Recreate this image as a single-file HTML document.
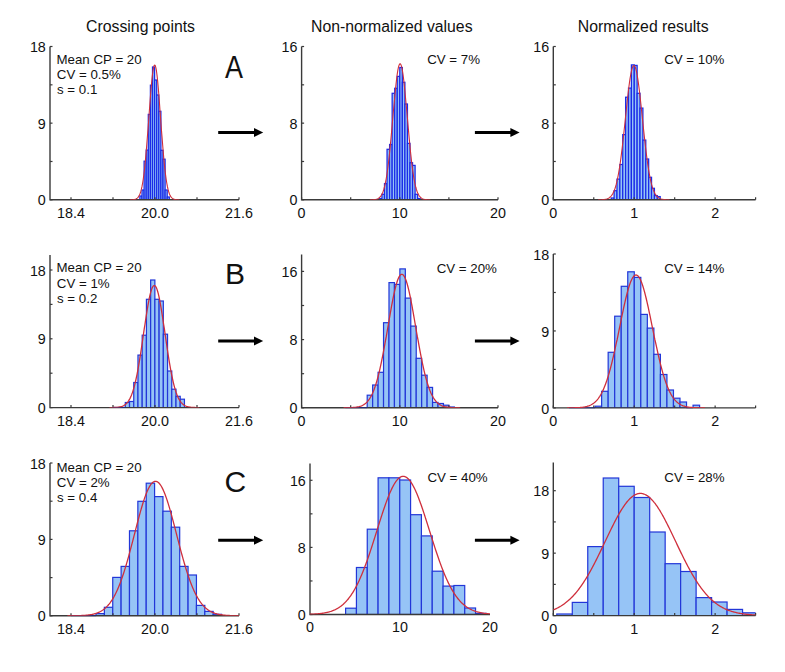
<!DOCTYPE html>
<html><head><meta charset="utf-8"><title>Histograms</title>
<style>html,body{margin:0;padding:0;background:#fff;}svg{display:block;}text{font-family:"Liberation Sans",sans-serif;}</style>
</head><body>
<svg width="785" height="672" viewBox="0 0 785 672" font-family='"Liberation Sans", sans-serif'>
<rect width="785" height="672" fill="#fff"/>
<defs><clipPath id="cpA1"><rect x="50.00" y="16.50" width="189.00" height="183.30"/></clipPath></defs>
<g clip-path="url(#cpA1)"><rect x="139.90" y="196.00" width="2.10" height="3.80" fill="#96c4f6" stroke="#1a2ae8" stroke-width="1.25"/><rect x="142.00" y="190.00" width="2.10" height="9.80" fill="#96c4f6" stroke="#1a2ae8" stroke-width="1.25"/><rect x="144.10" y="161.20" width="2.10" height="38.60" fill="#96c4f6" stroke="#1a2ae8" stroke-width="1.25"/><rect x="146.20" y="150.10" width="2.10" height="49.70" fill="#96c4f6" stroke="#1a2ae8" stroke-width="1.25"/><rect x="148.30" y="114.40" width="2.10" height="85.40" fill="#96c4f6" stroke="#1a2ae8" stroke-width="1.25"/><rect x="150.40" y="85.20" width="2.10" height="114.60" fill="#96c4f6" stroke="#1a2ae8" stroke-width="1.25"/><rect x="152.50" y="67.00" width="2.10" height="132.80" fill="#96c4f6" stroke="#1a2ae8" stroke-width="1.25"/><rect x="154.60" y="80.00" width="2.10" height="119.80" fill="#96c4f6" stroke="#1a2ae8" stroke-width="1.25"/><rect x="156.70" y="95.00" width="2.10" height="104.80" fill="#96c4f6" stroke="#1a2ae8" stroke-width="1.25"/><rect x="158.80" y="111.30" width="2.10" height="88.50" fill="#96c4f6" stroke="#1a2ae8" stroke-width="1.25"/><rect x="160.90" y="150.30" width="2.10" height="49.50" fill="#96c4f6" stroke="#1a2ae8" stroke-width="1.25"/><rect x="163.00" y="159.20" width="2.10" height="40.60" fill="#96c4f6" stroke="#1a2ae8" stroke-width="1.25"/><rect x="165.10" y="190.00" width="2.10" height="9.80" fill="#96c4f6" stroke="#1a2ae8" stroke-width="1.25"/><rect x="167.20" y="197.00" width="2.10" height="2.80" fill="#96c4f6" stroke="#1a2ae8" stroke-width="1.25"/></g>
<path d="M50.00,46.50 V199.80 H239.00" fill="none" stroke="#3a3a3a" stroke-width="1.4"/>
<path d="M50.00,199.80 h2.5" stroke="#3a3a3a" stroke-width="1.2"/>
<path d="M50.00,161.48 h2.5" stroke="#3a3a3a" stroke-width="1.2"/>
<path d="M50.00,123.15 h2.5" stroke="#3a3a3a" stroke-width="1.2"/>
<path d="M50.00,84.83 h2.5" stroke="#3a3a3a" stroke-width="1.2"/>
<path d="M50.00,46.50 h2.5" stroke="#3a3a3a" stroke-width="1.2"/>
<path d="M71.00,199.80 v-2.5" stroke="#3a3a3a" stroke-width="1.2"/>
<path d="M113.00,199.80 v-2.5" stroke="#3a3a3a" stroke-width="1.2"/>
<path d="M155.00,199.80 v-2.5" stroke="#3a3a3a" stroke-width="1.2"/>
<path d="M197.00,199.80 v-2.5" stroke="#3a3a3a" stroke-width="1.2"/>
<path d="M239.00,199.80 v-2.5" stroke="#3a3a3a" stroke-width="1.2"/>
<g clip-path="url(#cpA1)"><polyline points="129.9,199.78 130.5,199.77 131.1,199.75 131.7,199.73 132.3,199.70 132.9,199.65 133.5,199.58 134.2,199.49 134.8,199.36 135.4,199.17 136.0,198.93 136.6,198.60 137.2,198.17 137.8,197.60 138.4,196.86 139.0,195.92 139.6,194.72 140.2,193.24 140.8,191.40 141.4,189.16 142.0,186.47 142.6,183.27 143.2,179.52 143.8,175.17 144.4,170.21 145.0,164.62 145.6,158.40 146.2,151.60 146.8,144.26 147.4,136.48 148.1,128.36 148.7,120.03 149.3,111.67 149.9,103.45 150.5,95.56 151.1,88.20 151.7,81.57 152.3,75.85 152.9,71.22 153.5,67.80 154.1,65.71 154.7,65.00 155.3,65.71 155.9,67.80 156.5,71.22 157.1,75.85 157.7,81.57 158.3,88.20 158.9,95.56 159.5,103.45 160.1,111.67 160.7,120.03 161.3,128.36 162.0,136.48 162.6,144.26 163.2,151.60 163.8,158.40 164.4,164.62 165.0,170.21 165.6,175.17 166.2,179.52 166.8,183.27 167.4,186.47 168.0,189.16 168.6,191.40 169.2,193.24 169.8,194.72 170.4,195.92 171.0,196.86 171.6,197.60 172.2,198.17 172.8,198.60 173.4,198.93 174.0,199.17 174.6,199.36 175.2,199.49 175.9,199.58 176.5,199.65 177.1,199.70 177.7,199.73 178.3,199.75 178.9,199.77 179.5,199.78" fill="none" stroke="#cf2f3c" stroke-width="1.1" stroke-linejoin="round"/></g>
<text transform="translate(45.80,205.40) scale(1.0,1.05)" font-size="14.3" text-anchor="end" fill="#111">0</text>
<text transform="translate(45.80,128.75) scale(1.0,1.05)" font-size="14.3" text-anchor="end" fill="#111">9</text>
<text transform="translate(45.80,52.10) scale(1.0,1.05)" font-size="14.3" text-anchor="end" fill="#111">18</text>
<text transform="translate(71.00,217.70) scale(1.0,1.05)" font-size="14.3" text-anchor="middle" fill="#111">18.4</text>
<text transform="translate(155.00,217.70) scale(1.0,1.05)" font-size="14.3" text-anchor="middle" fill="#111">20.0</text>
<text transform="translate(239.00,217.70) scale(1.0,1.05)" font-size="14.3" text-anchor="middle" fill="#111">21.6</text>
<defs><clipPath id="cpA2"><rect x="301.60" y="16.50" width="196.40" height="183.30"/></clipPath></defs>
<g clip-path="url(#cpA2)"><rect x="379.40" y="198.60" width="2.55" height="1.20" fill="#96c4f6" stroke="#1a2ae8" stroke-width="1.25"/><rect x="381.95" y="194.30" width="2.55" height="5.50" fill="#96c4f6" stroke="#1a2ae8" stroke-width="1.25"/><rect x="384.50" y="183.60" width="2.55" height="16.20" fill="#96c4f6" stroke="#1a2ae8" stroke-width="1.25"/><rect x="387.05" y="149.30" width="2.55" height="50.50" fill="#96c4f6" stroke="#1a2ae8" stroke-width="1.25"/><rect x="389.60" y="144.50" width="2.55" height="55.30" fill="#96c4f6" stroke="#1a2ae8" stroke-width="1.25"/><rect x="392.15" y="93.30" width="2.55" height="106.50" fill="#96c4f6" stroke="#1a2ae8" stroke-width="1.25"/><rect x="394.70" y="88.30" width="2.55" height="111.50" fill="#96c4f6" stroke="#1a2ae8" stroke-width="1.25"/><rect x="397.25" y="76.40" width="2.55" height="123.40" fill="#96c4f6" stroke="#1a2ae8" stroke-width="1.25"/><rect x="399.80" y="67.50" width="2.55" height="132.30" fill="#96c4f6" stroke="#1a2ae8" stroke-width="1.25"/><rect x="402.35" y="82.30" width="2.55" height="117.50" fill="#96c4f6" stroke="#1a2ae8" stroke-width="1.25"/><rect x="404.90" y="104.00" width="2.55" height="95.80" fill="#96c4f6" stroke="#1a2ae8" stroke-width="1.25"/><rect x="407.45" y="143.40" width="2.55" height="56.40" fill="#96c4f6" stroke="#1a2ae8" stroke-width="1.25"/><rect x="410.00" y="162.70" width="2.55" height="37.10" fill="#96c4f6" stroke="#1a2ae8" stroke-width="1.25"/><rect x="412.55" y="165.40" width="2.55" height="34.40" fill="#96c4f6" stroke="#1a2ae8" stroke-width="1.25"/><rect x="415.10" y="194.30" width="2.55" height="5.50" fill="#96c4f6" stroke="#1a2ae8" stroke-width="1.25"/><rect x="417.65" y="198.60" width="2.55" height="1.20" fill="#96c4f6" stroke="#1a2ae8" stroke-width="1.25"/></g>
<path d="M301.60,46.50 V199.80 H498.00" fill="none" stroke="#3a3a3a" stroke-width="1.4"/>
<path d="M301.60,199.80 h2.5" stroke="#3a3a3a" stroke-width="1.2"/>
<path d="M301.60,161.48 h2.5" stroke="#3a3a3a" stroke-width="1.2"/>
<path d="M301.60,123.15 h2.5" stroke="#3a3a3a" stroke-width="1.2"/>
<path d="M301.60,84.83 h2.5" stroke="#3a3a3a" stroke-width="1.2"/>
<path d="M301.60,46.50 h2.5" stroke="#3a3a3a" stroke-width="1.2"/>
<path d="M301.60,199.80 v-2.5" stroke="#3a3a3a" stroke-width="1.2"/>
<path d="M350.70,199.80 v-2.5" stroke="#3a3a3a" stroke-width="1.2"/>
<path d="M399.80,199.80 v-2.5" stroke="#3a3a3a" stroke-width="1.2"/>
<path d="M448.90,199.80 v-2.5" stroke="#3a3a3a" stroke-width="1.2"/>
<path d="M498.00,199.80 v-2.5" stroke="#3a3a3a" stroke-width="1.2"/>
<g clip-path="url(#cpA2)"><polyline points="369.9,199.78 370.5,199.77 371.1,199.76 371.7,199.74 372.3,199.72 372.9,199.69 373.5,199.65 374.1,199.60 374.7,199.53 375.3,199.44 375.9,199.32 376.5,199.16 377.1,198.97 377.7,198.71 378.3,198.39 378.9,197.99 379.5,197.50 380.1,196.88 380.7,196.13 381.4,195.21 382.0,194.11 382.6,192.80 383.2,191.24 383.8,189.40 384.4,187.27 385.0,184.79 385.6,181.96 386.2,178.75 386.8,175.12 387.4,171.08 388.0,166.61 388.6,161.72 389.2,156.41 389.8,150.70 390.4,144.64 391.0,138.27 391.6,131.64 392.2,124.82 392.8,117.91 393.4,110.99 394.1,104.16 394.7,97.53 395.3,91.21 395.9,85.31 396.5,79.93 397.1,75.19 397.7,71.17 398.3,67.95 398.9,65.61 399.5,64.18 400.1,63.70 400.7,64.18 401.3,65.61 401.9,67.95 402.5,71.17 403.1,75.19 403.7,79.93 404.3,85.31 404.9,91.21 405.5,97.53 406.1,104.16 406.8,110.99 407.4,117.91 408.0,124.82 408.6,131.64 409.2,138.27 409.8,144.64 410.4,150.70 411.0,156.41 411.6,161.72 412.2,166.61 412.8,171.08 413.4,175.12 414.0,178.75 414.6,181.96 415.2,184.79 415.8,187.27 416.4,189.40 417.0,191.24 417.6,192.80 418.2,194.11 418.8,195.21 419.5,196.13 420.1,196.88 420.7,197.50 421.3,197.99 421.9,198.39 422.5,198.71 423.1,198.97 423.7,199.16 424.3,199.32 424.9,199.44 425.5,199.53 426.1,199.60 426.7,199.65 427.3,199.69 427.9,199.72 428.5,199.74 429.1,199.76 429.7,199.77 430.3,199.78" fill="none" stroke="#cf2f3c" stroke-width="1.1" stroke-linejoin="round"/></g>
<text transform="translate(297.40,205.40) scale(1.0,1.05)" font-size="14.3" text-anchor="end" fill="#111">0</text>
<text transform="translate(297.40,128.75) scale(1.0,1.05)" font-size="14.3" text-anchor="end" fill="#111">8</text>
<text transform="translate(297.40,52.10) scale(1.0,1.05)" font-size="14.3" text-anchor="end" fill="#111">16</text>
<text transform="translate(301.60,217.70) scale(1.0,1.05)" font-size="14.3" text-anchor="middle" fill="#111">0</text>
<text transform="translate(399.80,217.70) scale(1.0,1.05)" font-size="14.3" text-anchor="middle" fill="#111">10</text>
<text transform="translate(498.00,217.70) scale(1.0,1.05)" font-size="14.3" text-anchor="middle" fill="#111">20</text>
<defs><clipPath id="cpA3"><rect x="553.30" y="16.50" width="202.30" height="183.30"/></clipPath></defs>
<g clip-path="url(#cpA3)"><rect x="611.22" y="198.00" width="2.88" height="1.80" fill="#96c4f6" stroke="#1a2ae8" stroke-width="1.25"/><rect x="614.10" y="190.70" width="2.88" height="9.10" fill="#96c4f6" stroke="#1a2ae8" stroke-width="1.25"/><rect x="616.98" y="179.10" width="2.88" height="20.70" fill="#96c4f6" stroke="#1a2ae8" stroke-width="1.25"/><rect x="619.86" y="164.50" width="2.88" height="35.30" fill="#96c4f6" stroke="#1a2ae8" stroke-width="1.25"/><rect x="622.74" y="134.60" width="2.88" height="65.20" fill="#96c4f6" stroke="#1a2ae8" stroke-width="1.25"/><rect x="625.62" y="97.20" width="2.88" height="102.60" fill="#96c4f6" stroke="#1a2ae8" stroke-width="1.25"/><rect x="628.50" y="88.10" width="2.88" height="111.70" fill="#96c4f6" stroke="#1a2ae8" stroke-width="1.25"/><rect x="631.38" y="64.90" width="2.88" height="134.90" fill="#96c4f6" stroke="#1a2ae8" stroke-width="1.25"/><rect x="634.26" y="65.40" width="2.88" height="134.40" fill="#96c4f6" stroke="#1a2ae8" stroke-width="1.25"/><rect x="637.14" y="93.30" width="2.88" height="106.50" fill="#96c4f6" stroke="#1a2ae8" stroke-width="1.25"/><rect x="640.02" y="108.10" width="2.88" height="91.70" fill="#96c4f6" stroke="#1a2ae8" stroke-width="1.25"/><rect x="642.90" y="140.10" width="2.88" height="59.70" fill="#96c4f6" stroke="#1a2ae8" stroke-width="1.25"/><rect x="645.78" y="159.00" width="2.88" height="40.80" fill="#96c4f6" stroke="#1a2ae8" stroke-width="1.25"/><rect x="648.66" y="177.30" width="2.88" height="22.50" fill="#96c4f6" stroke="#1a2ae8" stroke-width="1.25"/><rect x="651.54" y="188.30" width="2.88" height="11.50" fill="#96c4f6" stroke="#1a2ae8" stroke-width="1.25"/><rect x="654.42" y="195.60" width="2.88" height="4.20" fill="#96c4f6" stroke="#1a2ae8" stroke-width="1.25"/><rect x="657.30" y="196.60" width="2.88" height="3.20" fill="#96c4f6" stroke="#1a2ae8" stroke-width="1.25"/></g>
<path d="M553.30,46.50 V199.80 H755.60" fill="none" stroke="#3a3a3a" stroke-width="1.4"/>
<path d="M553.30,199.80 h2.5" stroke="#3a3a3a" stroke-width="1.2"/>
<path d="M553.30,161.48 h2.5" stroke="#3a3a3a" stroke-width="1.2"/>
<path d="M553.30,123.15 h2.5" stroke="#3a3a3a" stroke-width="1.2"/>
<path d="M553.30,84.83 h2.5" stroke="#3a3a3a" stroke-width="1.2"/>
<path d="M553.30,46.50 h2.5" stroke="#3a3a3a" stroke-width="1.2"/>
<path d="M553.30,199.80 v-2.5" stroke="#3a3a3a" stroke-width="1.2"/>
<path d="M593.76,199.80 v-2.5" stroke="#3a3a3a" stroke-width="1.2"/>
<path d="M634.22,199.80 v-2.5" stroke="#3a3a3a" stroke-width="1.2"/>
<path d="M674.68,199.80 v-2.5" stroke="#3a3a3a" stroke-width="1.2"/>
<path d="M715.14,199.80 v-2.5" stroke="#3a3a3a" stroke-width="1.2"/>
<path d="M755.60,199.80 v-2.5" stroke="#3a3a3a" stroke-width="1.2"/>
<g clip-path="url(#cpA3)"><polyline points="598.2,199.78 598.8,199.77 599.4,199.76 600.0,199.75 600.6,199.74 601.2,199.72 601.8,199.69 602.4,199.66 603.0,199.62 603.6,199.57 604.2,199.50 604.8,199.42 605.4,199.31 606.0,199.19 606.6,199.03 607.2,198.83 607.8,198.60 608.4,198.31 609.0,197.96 609.6,197.54 610.2,197.05 610.8,196.46 611.4,195.76 612.0,194.94 612.6,193.99 613.2,192.88 613.8,191.60 614.4,190.13 615.0,188.46 615.6,186.57 616.2,184.44 616.8,182.05 617.4,179.39 618.0,176.45 618.6,173.22 619.2,169.70 619.8,165.87 620.4,161.75 621.0,157.34 621.6,152.66 622.2,147.72 622.8,142.55 623.4,137.18 624.0,131.64 624.6,125.99 625.2,120.26 625.8,114.51 626.4,108.81 627.0,103.20 627.6,97.76 628.2,92.54 628.8,87.62 629.4,83.06 630.0,78.92 630.6,75.25 631.2,72.11 631.8,69.54 632.4,67.57 633.0,66.25 633.6,65.58 634.2,65.58 634.8,66.25 635.4,67.57 636.0,69.54 636.6,72.11 637.2,75.25 637.8,78.92 638.4,83.06 639.0,87.62 639.6,92.54 640.2,97.76 640.8,103.20 641.4,108.81 642.0,114.51 642.6,120.26 643.2,125.99 643.8,131.64 644.4,137.18 645.0,142.55 645.6,147.72 646.2,152.66 646.8,157.34 647.4,161.75 648.0,165.87 648.6,169.70 649.2,173.22 649.8,176.45 650.4,179.39 651.0,182.05 651.6,184.44 652.2,186.57 652.8,188.46 653.4,190.13 654.0,191.60 654.6,192.88 655.2,193.99 655.8,194.94 656.4,195.76 657.0,196.46 657.6,197.05 658.2,197.54 658.8,197.96 659.4,198.31 660.0,198.60 660.6,198.83 661.2,199.03 661.8,199.19 662.4,199.31 663.0,199.42 663.6,199.50 664.2,199.57 664.8,199.62 665.4,199.66 666.0,199.69 666.6,199.72 667.2,199.74 667.8,199.75 668.4,199.76 669.0,199.77 669.6,199.78" fill="none" stroke="#cf2f3c" stroke-width="1.1" stroke-linejoin="round"/></g>
<text transform="translate(549.10,205.40) scale(1.0,1.05)" font-size="14.3" text-anchor="end" fill="#111">0</text>
<text transform="translate(549.10,128.75) scale(1.0,1.05)" font-size="14.3" text-anchor="end" fill="#111">8</text>
<text transform="translate(549.10,52.10) scale(1.0,1.05)" font-size="14.3" text-anchor="end" fill="#111">16</text>
<text transform="translate(553.30,217.70) scale(1.0,1.05)" font-size="14.3" text-anchor="middle" fill="#111">0</text>
<text transform="translate(634.22,217.70) scale(1.0,1.05)" font-size="14.3" text-anchor="middle" fill="#111">1</text>
<text transform="translate(715.14,217.70) scale(1.0,1.05)" font-size="14.3" text-anchor="middle" fill="#111">2</text>
<defs><clipPath id="cpB1"><rect x="50.00" y="225.00" width="189.00" height="182.60"/></clipPath></defs>
<g clip-path="url(#cpB1)"><rect x="125.30" y="402.50" width="4.22" height="5.10" fill="#96c4f6" stroke="#2236d8" stroke-width="1.2"/><rect x="129.53" y="401.50" width="4.22" height="6.10" fill="#96c4f6" stroke="#2236d8" stroke-width="1.2"/><rect x="133.75" y="382.50" width="4.22" height="25.10" fill="#96c4f6" stroke="#2236d8" stroke-width="1.2"/><rect x="137.97" y="355.10" width="4.22" height="52.50" fill="#96c4f6" stroke="#2236d8" stroke-width="1.2"/><rect x="142.20" y="335.20" width="4.22" height="72.40" fill="#96c4f6" stroke="#2236d8" stroke-width="1.2"/><rect x="146.43" y="299.30" width="4.22" height="108.30" fill="#96c4f6" stroke="#2236d8" stroke-width="1.2"/><rect x="150.65" y="280.00" width="4.22" height="127.60" fill="#96c4f6" stroke="#2236d8" stroke-width="1.2"/><rect x="154.88" y="299.30" width="4.22" height="108.30" fill="#96c4f6" stroke="#2236d8" stroke-width="1.2"/><rect x="159.10" y="301.00" width="4.22" height="106.60" fill="#96c4f6" stroke="#2236d8" stroke-width="1.2"/><rect x="163.32" y="334.20" width="4.22" height="73.40" fill="#96c4f6" stroke="#2236d8" stroke-width="1.2"/><rect x="167.55" y="371.00" width="4.22" height="36.60" fill="#96c4f6" stroke="#2236d8" stroke-width="1.2"/><rect x="171.77" y="389.20" width="4.22" height="18.40" fill="#96c4f6" stroke="#2236d8" stroke-width="1.2"/><rect x="176.00" y="396.30" width="4.22" height="11.30" fill="#96c4f6" stroke="#2236d8" stroke-width="1.2"/><rect x="180.22" y="399.20" width="4.22" height="8.40" fill="#96c4f6" stroke="#2236d8" stroke-width="1.2"/></g>
<path d="M50.00,255.00 V407.60 H239.00" fill="none" stroke="#3a3a3a" stroke-width="1.4"/>
<path d="M50.00,407.60 h2.5" stroke="#3a3a3a" stroke-width="1.2"/>
<path d="M50.00,373.20 h2.5" stroke="#3a3a3a" stroke-width="1.2"/>
<path d="M50.00,338.80 h2.5" stroke="#3a3a3a" stroke-width="1.2"/>
<path d="M50.00,304.40 h2.5" stroke="#3a3a3a" stroke-width="1.2"/>
<path d="M50.00,270.00 h2.5" stroke="#3a3a3a" stroke-width="1.2"/>
<path d="M71.00,407.60 v-2.5" stroke="#3a3a3a" stroke-width="1.2"/>
<path d="M113.00,407.60 v-2.5" stroke="#3a3a3a" stroke-width="1.2"/>
<path d="M155.00,407.60 v-2.5" stroke="#3a3a3a" stroke-width="1.2"/>
<path d="M197.00,407.60 v-2.5" stroke="#3a3a3a" stroke-width="1.2"/>
<path d="M239.00,407.60 v-2.5" stroke="#3a3a3a" stroke-width="1.2"/>
<path d="M112.60,407.40 H125.30" stroke="#1c2a8a" stroke-width="1.1" opacity="0.8"/>
<g clip-path="url(#cpB1)"><polyline points="109.4,407.58 110.0,407.58 110.6,407.57 111.2,407.56 111.8,407.55 112.4,407.54 113.0,407.53 113.6,407.51 114.2,407.49 114.8,407.47 115.4,407.44 116.0,407.40 116.6,407.35 117.2,407.30 117.8,407.24 118.4,407.16 119.0,407.07 119.6,406.96 120.2,406.84 120.8,406.69 121.4,406.51 122.0,406.31 122.6,406.07 123.2,405.80 123.8,405.48 124.4,405.11 125.0,404.69 125.6,404.21 126.3,403.67 126.9,403.05 127.5,402.35 128.1,401.56 128.7,400.68 129.3,399.69 129.9,398.59 130.5,397.37 131.1,396.02 131.7,394.53 132.3,392.90 132.9,391.12 133.5,389.18 134.1,387.08 134.7,384.81 135.3,382.37 135.9,379.76 136.5,376.97 137.1,374.01 137.7,370.89 138.3,367.60 138.9,364.15 139.5,360.56 140.1,356.83 140.7,352.98 141.3,349.03 141.9,344.98 142.5,340.88 143.1,336.72 143.7,332.55 144.3,328.38 145.0,324.25 145.6,320.18 146.2,316.20 146.8,312.35 147.4,308.64 148.0,305.12 148.6,301.81 149.2,298.74 149.8,295.94 150.4,293.43 151.0,291.23 151.6,289.37 152.2,287.85 152.8,286.71 153.4,285.94 154.0,285.55 154.6,285.55 155.2,285.94 155.8,286.71 156.4,287.85 157.0,289.37 157.6,291.23 158.2,293.43 158.8,295.94 159.4,298.74 160.0,301.81 160.6,305.12 161.2,308.64 161.8,312.35 162.4,316.20 163.0,320.18 163.6,324.25 164.3,328.38 164.9,332.55 165.5,336.72 166.1,340.88 166.7,344.98 167.3,349.03 167.9,352.98 168.5,356.83 169.1,360.56 169.7,364.15 170.3,367.60 170.9,370.89 171.5,374.01 172.1,376.97 172.7,379.76 173.3,382.37 173.9,384.81 174.5,387.08 175.1,389.18 175.7,391.12 176.3,392.90 176.9,394.53 177.5,396.02 178.1,397.37 178.7,398.59 179.3,399.69 179.9,400.68 180.5,401.56 181.1,402.35 181.7,403.05 182.3,403.67 183.0,404.21 183.6,404.69 184.2,405.11 184.8,405.48 185.4,405.80 186.0,406.07 186.6,406.31 187.2,406.51 187.8,406.69 188.4,406.84 189.0,406.96 189.6,407.07 190.2,407.16 190.8,407.24 191.4,407.30 192.0,407.35 192.6,407.40 193.2,407.44 193.8,407.47 194.4,407.49 195.0,407.51 195.6,407.53 196.2,407.54 196.8,407.55 197.4,407.56 198.0,407.57 198.6,407.58 199.2,407.58" fill="none" stroke="#cf2f3c" stroke-width="1.3" stroke-linejoin="round"/></g>
<text transform="translate(45.80,413.20) scale(1.0,1.05)" font-size="14.3" text-anchor="end" fill="#111">0</text>
<text transform="translate(45.80,344.40) scale(1.0,1.05)" font-size="14.3" text-anchor="end" fill="#111">9</text>
<text transform="translate(45.80,275.60) scale(1.0,1.05)" font-size="14.3" text-anchor="end" fill="#111">18</text>
<text transform="translate(71.00,425.50) scale(1.0,1.05)" font-size="14.3" text-anchor="middle" fill="#111">18.4</text>
<text transform="translate(155.00,425.50) scale(1.0,1.05)" font-size="14.3" text-anchor="middle" fill="#111">20.0</text>
<text transform="translate(239.00,425.50) scale(1.0,1.05)" font-size="14.3" text-anchor="middle" fill="#111">21.6</text>
<defs><clipPath id="cpB2"><rect x="301.60" y="224.50" width="196.40" height="183.30"/></clipPath></defs>
<g clip-path="url(#cpB2)"><rect x="367.20" y="395.20" width="5.45" height="12.60" fill="#96c4f6" stroke="#2236d8" stroke-width="1.2"/><rect x="372.65" y="385.00" width="5.45" height="22.80" fill="#96c4f6" stroke="#2236d8" stroke-width="1.2"/><rect x="378.09" y="372.30" width="5.45" height="35.50" fill="#96c4f6" stroke="#2236d8" stroke-width="1.2"/><rect x="383.54" y="322.70" width="5.45" height="85.10" fill="#96c4f6" stroke="#2236d8" stroke-width="1.2"/><rect x="388.99" y="282.60" width="5.45" height="125.20" fill="#96c4f6" stroke="#2236d8" stroke-width="1.2"/><rect x="394.44" y="284.40" width="5.45" height="123.40" fill="#96c4f6" stroke="#2236d8" stroke-width="1.2"/><rect x="399.88" y="268.90" width="5.45" height="138.90" fill="#96c4f6" stroke="#2236d8" stroke-width="1.2"/><rect x="405.33" y="298.10" width="5.45" height="109.70" fill="#96c4f6" stroke="#2236d8" stroke-width="1.2"/><rect x="410.78" y="326.10" width="5.45" height="81.70" fill="#96c4f6" stroke="#2236d8" stroke-width="1.2"/><rect x="416.22" y="358.30" width="5.45" height="49.50" fill="#96c4f6" stroke="#2236d8" stroke-width="1.2"/><rect x="421.67" y="375.20" width="5.45" height="32.60" fill="#96c4f6" stroke="#2236d8" stroke-width="1.2"/><rect x="427.12" y="387.40" width="5.45" height="20.40" fill="#96c4f6" stroke="#2236d8" stroke-width="1.2"/><rect x="432.56" y="402.40" width="5.45" height="5.40" fill="#96c4f6" stroke="#2236d8" stroke-width="1.2"/><rect x="438.01" y="403.50" width="5.45" height="4.30" fill="#96c4f6" stroke="#2236d8" stroke-width="1.2"/><rect x="443.46" y="405.20" width="5.45" height="2.60" fill="#96c4f6" stroke="#2236d8" stroke-width="1.2"/><rect x="448.90" y="407.00" width="5.45" height="0.80" fill="#96c4f6" stroke="#2236d8" stroke-width="1.2"/></g>
<path d="M301.60,254.50 V407.80 H498.00" fill="none" stroke="#3a3a3a" stroke-width="1.4"/>
<path d="M301.60,407.80 h2.5" stroke="#3a3a3a" stroke-width="1.2"/>
<path d="M301.60,373.70 h2.5" stroke="#3a3a3a" stroke-width="1.2"/>
<path d="M301.60,339.60 h2.5" stroke="#3a3a3a" stroke-width="1.2"/>
<path d="M301.60,305.50 h2.5" stroke="#3a3a3a" stroke-width="1.2"/>
<path d="M301.60,271.40 h2.5" stroke="#3a3a3a" stroke-width="1.2"/>
<path d="M301.60,407.80 v-2.5" stroke="#3a3a3a" stroke-width="1.2"/>
<path d="M350.70,407.80 v-2.5" stroke="#3a3a3a" stroke-width="1.2"/>
<path d="M399.80,407.80 v-2.5" stroke="#3a3a3a" stroke-width="1.2"/>
<path d="M448.90,407.80 v-2.5" stroke="#3a3a3a" stroke-width="1.2"/>
<path d="M498.00,407.80 v-2.5" stroke="#3a3a3a" stroke-width="1.2"/>
<path d="M345.40,407.60 H367.20" stroke="#1c2a8a" stroke-width="1.1" opacity="0.8"/>
<g clip-path="url(#cpB2)"><polyline points="343.4,407.78 344.0,407.78 344.6,407.77 345.2,407.77 345.8,407.76 346.4,407.75 347.0,407.74 347.6,407.73 348.2,407.72 348.8,407.71 349.4,407.69 350.0,407.67 350.6,407.65 351.2,407.62 351.8,407.59 352.4,407.56 353.0,407.52 353.7,407.47 354.3,407.42 354.9,407.35 355.5,407.29 356.1,407.21 356.7,407.12 357.3,407.01 357.9,406.90 358.5,406.76 359.1,406.62 359.7,406.45 360.3,406.26 360.9,406.05 361.5,405.81 362.1,405.55 362.7,405.26 363.3,404.93 363.9,404.57 364.5,404.16 365.1,403.72 365.7,403.23 366.3,402.69 366.9,402.10 367.5,401.45 368.1,400.74 368.7,399.97 369.3,399.12 369.9,398.21 370.5,397.22 371.1,396.14 371.7,394.99 372.3,393.74 372.9,392.40 373.5,390.97 374.1,389.43 374.7,387.80 375.3,386.06 375.9,384.21 376.5,382.25 377.1,380.19 377.7,378.01 378.3,375.72 378.9,373.32 379.5,370.80 380.1,368.18 380.7,365.46 381.3,362.63 381.9,359.70 382.5,356.68 383.1,353.57 383.7,350.38 384.3,347.11 384.9,343.78 385.5,340.39 386.2,336.96 386.8,333.49 387.4,330.00 388.0,326.49 388.6,322.99 389.2,319.50 389.8,316.04 390.4,312.63 391.0,309.27 391.6,305.98 392.2,302.78 392.8,299.69 393.4,296.71 394.0,293.86 394.6,291.16 395.2,288.62 395.8,286.25 396.4,284.06 397.0,282.07 397.6,280.29 398.2,278.73 398.8,277.39 399.4,276.29 400.0,275.42 400.6,274.80 401.2,274.43 401.8,274.30 402.4,274.43 403.0,274.80 403.6,275.42 404.2,276.29 404.8,277.39 405.4,278.73 406.0,280.29 406.6,282.07 407.2,284.06 407.8,286.25 408.4,288.62 409.0,291.16 409.6,293.86 410.2,296.71 410.8,299.69 411.4,302.78 412.0,305.98 412.6,309.27 413.2,312.63 413.8,316.04 414.4,319.50 415.0,322.99 415.6,326.49 416.2,330.00 416.8,333.49 417.4,336.96 418.1,340.39 418.7,343.78 419.3,347.11 419.9,350.38 420.5,353.57 421.1,356.68 421.7,359.70 422.3,362.63 422.9,365.46 423.5,368.18 424.1,370.80 424.7,373.32 425.3,375.72 425.9,378.01 426.5,380.19 427.1,382.25 427.7,384.21 428.3,386.06 428.9,387.80 429.5,389.43 430.1,390.97 430.7,392.40 431.3,393.74 431.9,394.99 432.5,396.14 433.1,397.22 433.7,398.21 434.3,399.12 434.9,399.97 435.5,400.74 436.1,401.45 436.7,402.10 437.3,402.69 437.9,403.23 438.5,403.72 439.1,404.16 439.7,404.57 440.3,404.93 440.9,405.26 441.5,405.55 442.1,405.81 442.7,406.05 443.3,406.26 443.9,406.45 444.5,406.62 445.1,406.76 445.7,406.90 446.3,407.01 446.9,407.12 447.5,407.21 448.1,407.29 448.7,407.35 449.3,407.42 449.9,407.47 450.6,407.52 451.2,407.56 451.8,407.59 452.4,407.62 453.0,407.65 453.6,407.67 454.2,407.69 454.8,407.71 455.4,407.72 456.0,407.73 456.6,407.74 457.2,407.75 457.8,407.76 458.4,407.77 459.0,407.77 459.6,407.78 460.2,407.78" fill="none" stroke="#cf2f3c" stroke-width="1.3" stroke-linejoin="round"/></g>
<text transform="translate(297.40,413.40) scale(1.0,1.05)" font-size="14.3" text-anchor="end" fill="#111">0</text>
<text transform="translate(297.40,345.20) scale(1.0,1.05)" font-size="14.3" text-anchor="end" fill="#111">8</text>
<text transform="translate(297.40,277.00) scale(1.0,1.05)" font-size="14.3" text-anchor="end" fill="#111">16</text>
<text transform="translate(301.60,425.70) scale(1.0,1.05)" font-size="14.3" text-anchor="middle" fill="#111">0</text>
<text transform="translate(399.80,425.70) scale(1.0,1.05)" font-size="14.3" text-anchor="middle" fill="#111">10</text>
<text transform="translate(498.00,425.70) scale(1.0,1.05)" font-size="14.3" text-anchor="middle" fill="#111">20</text>
<defs><clipPath id="cpB3"><rect x="553.30" y="224.00" width="202.30" height="183.90"/></clipPath></defs>
<g clip-path="url(#cpB3)"><rect x="595.10" y="406.20" width="6.53" height="1.70" fill="#96c4f6" stroke="#2236d8" stroke-width="1.2"/><rect x="601.63" y="391.30" width="6.53" height="16.60" fill="#96c4f6" stroke="#2236d8" stroke-width="1.2"/><rect x="608.16" y="352.30" width="6.53" height="55.60" fill="#96c4f6" stroke="#2236d8" stroke-width="1.2"/><rect x="614.69" y="316.20" width="6.53" height="91.70" fill="#96c4f6" stroke="#2236d8" stroke-width="1.2"/><rect x="621.22" y="286.30" width="6.53" height="121.60" fill="#96c4f6" stroke="#2236d8" stroke-width="1.2"/><rect x="627.75" y="271.80" width="6.53" height="136.10" fill="#96c4f6" stroke="#2236d8" stroke-width="1.2"/><rect x="634.28" y="277.40" width="6.53" height="130.50" fill="#96c4f6" stroke="#2236d8" stroke-width="1.2"/><rect x="640.81" y="314.40" width="6.53" height="93.50" fill="#96c4f6" stroke="#2236d8" stroke-width="1.2"/><rect x="647.34" y="328.10" width="6.53" height="79.80" fill="#96c4f6" stroke="#2236d8" stroke-width="1.2"/><rect x="653.87" y="354.30" width="6.53" height="53.60" fill="#96c4f6" stroke="#2236d8" stroke-width="1.2"/><rect x="660.40" y="374.50" width="6.53" height="33.40" fill="#96c4f6" stroke="#2236d8" stroke-width="1.2"/><rect x="666.93" y="390.00" width="6.53" height="17.90" fill="#96c4f6" stroke="#2236d8" stroke-width="1.2"/><rect x="673.46" y="398.20" width="6.53" height="9.70" fill="#96c4f6" stroke="#2236d8" stroke-width="1.2"/><rect x="679.99" y="402.00" width="6.53" height="5.90" fill="#96c4f6" stroke="#2236d8" stroke-width="1.2"/><rect x="693.05" y="405.20" width="6.53" height="2.70" fill="#96c4f6" stroke="#2236d8" stroke-width="1.2"/></g>
<path d="M553.30,254.00 V407.90 H755.60" fill="none" stroke="#3a3a3a" stroke-width="1.4"/>
<path d="M553.30,407.90 h2.5" stroke="#3a3a3a" stroke-width="1.2"/>
<path d="M553.30,369.42 h2.5" stroke="#3a3a3a" stroke-width="1.2"/>
<path d="M553.30,330.95 h2.5" stroke="#3a3a3a" stroke-width="1.2"/>
<path d="M553.30,292.48 h2.5" stroke="#3a3a3a" stroke-width="1.2"/>
<path d="M553.30,254.00 h2.5" stroke="#3a3a3a" stroke-width="1.2"/>
<path d="M553.30,407.90 v-2.5" stroke="#3a3a3a" stroke-width="1.2"/>
<path d="M593.76,407.90 v-2.5" stroke="#3a3a3a" stroke-width="1.2"/>
<path d="M634.22,407.90 v-2.5" stroke="#3a3a3a" stroke-width="1.2"/>
<path d="M674.68,407.90 v-2.5" stroke="#3a3a3a" stroke-width="1.2"/>
<path d="M715.14,407.90 v-2.5" stroke="#3a3a3a" stroke-width="1.2"/>
<path d="M755.60,407.90 v-2.5" stroke="#3a3a3a" stroke-width="1.2"/>
<path d="M569.00,407.70 H595.10" stroke="#1c2a8a" stroke-width="1.1" opacity="0.8"/>
<path d="M686.40,407.70 H692.90" stroke="#1c2a8a" stroke-width="1.1" opacity="0.8"/>
<g clip-path="url(#cpB3)"><polyline points="567.1,407.88 567.7,407.88 568.3,407.87 568.9,407.87 569.5,407.86 570.1,407.86 570.7,407.85 571.3,407.84 571.9,407.84 572.5,407.83 573.1,407.81 573.7,407.80 574.3,407.79 574.9,407.77 575.5,407.75 576.1,407.73 576.7,407.71 577.3,407.68 577.9,407.65 578.5,407.61 579.2,407.57 579.8,407.53 580.4,407.48 581.0,407.42 581.6,407.36 582.2,407.29 582.8,407.22 583.4,407.13 584.0,407.03 584.6,406.93 585.2,406.81 585.8,406.68 586.4,406.54 587.0,406.38 587.6,406.20 588.2,406.01 588.8,405.80 589.4,405.56 590.0,405.31 590.6,405.03 591.2,404.72 591.8,404.39 592.4,404.03 593.0,403.64 593.6,403.21 594.2,402.74 594.8,402.24 595.4,401.70 596.0,401.12 596.6,400.49 597.2,399.81 597.8,399.08 598.4,398.30 599.0,397.47 599.6,396.57 600.2,395.62 600.8,394.61 601.4,393.53 602.0,392.38 602.6,391.17 603.2,389.88 603.8,388.52 604.4,387.09 605.0,385.58 605.6,384.00 606.2,382.34 606.8,380.59 607.4,378.77 608.0,376.87 608.6,374.89 609.2,372.83 609.8,370.69 610.4,368.47 611.0,366.18 611.6,363.82 612.2,361.38 612.8,358.87 613.4,356.30 614.0,353.67 614.6,350.97 615.2,348.23 615.8,345.44 616.4,342.60 617.1,339.73 617.7,336.82 618.3,333.90 618.9,330.95 619.5,328.00 620.1,325.04 620.7,322.09 621.3,319.15 621.9,316.24 622.5,313.36 623.1,310.52 623.7,307.73 624.3,305.00 624.9,302.33 625.5,299.74 626.1,297.24 626.7,294.83 627.3,292.53 627.9,290.34 628.5,288.26 629.1,286.31 629.7,284.50 630.3,282.83 630.9,281.31 631.5,279.94 632.1,278.72 632.7,277.68 633.3,276.80 633.9,276.09 634.5,275.56 635.1,275.20 635.7,275.02 636.3,275.02 636.9,275.20 637.5,275.56 638.1,276.09 638.7,276.80 639.3,277.68 639.9,278.72 640.5,279.94 641.1,281.31 641.7,282.83 642.3,284.50 642.9,286.31 643.5,288.26 644.1,290.34 644.7,292.53 645.3,294.83 645.9,297.24 646.5,299.74 647.1,302.33 647.7,305.00 648.3,307.73 648.9,310.52 649.5,313.36 650.1,316.24 650.7,319.15 651.3,322.09 651.9,325.04 652.5,328.00 653.1,330.95 653.7,333.90 654.3,336.82 654.9,339.73 655.6,342.60 656.2,345.44 656.8,348.23 657.4,350.97 658.0,353.67 658.6,356.30 659.2,358.87 659.8,361.38 660.4,363.82 661.0,366.18 661.6,368.47 662.2,370.69 662.8,372.83 663.4,374.89 664.0,376.87 664.6,378.77 665.2,380.59 665.8,382.34 666.4,384.00 667.0,385.58 667.6,387.09 668.2,388.52 668.8,389.88 669.4,391.17 670.0,392.38 670.6,393.53 671.2,394.61 671.8,395.62 672.4,396.57 673.0,397.47 673.6,398.30 674.2,399.08 674.8,399.81 675.4,400.49 676.0,401.12 676.6,401.70 677.2,402.24 677.8,402.74 678.4,403.21 679.0,403.64 679.6,404.03 680.2,404.39 680.8,404.72 681.4,405.03 682.0,405.31 682.6,405.56 683.2,405.80 683.8,406.01 684.4,406.20 685.0,406.38 685.6,406.54 686.2,406.68 686.8,406.81 687.4,406.93 688.0,407.03 688.6,407.13 689.2,407.22 689.8,407.29 690.4,407.36 691.0,407.42 691.6,407.48 692.2,407.53 692.8,407.57 693.5,407.61 694.1,407.65 694.7,407.68 695.3,407.71 695.9,407.73 696.5,407.75 697.1,407.77 697.7,407.79 698.3,407.80 698.9,407.81 699.5,407.83 700.1,407.84 700.7,407.84 701.3,407.85 701.9,407.86 702.5,407.86 703.1,407.87 703.7,407.87 704.3,407.88 704.9,407.88" fill="none" stroke="#cf2f3c" stroke-width="1.3" stroke-linejoin="round"/></g>
<text transform="translate(549.10,413.50) scale(1.0,1.05)" font-size="14.3" text-anchor="end" fill="#111">0</text>
<text transform="translate(549.10,336.55) scale(1.0,1.05)" font-size="14.3" text-anchor="end" fill="#111">9</text>
<text transform="translate(549.10,259.60) scale(1.0,1.05)" font-size="14.3" text-anchor="end" fill="#111">18</text>
<text transform="translate(553.30,425.80) scale(1.0,1.05)" font-size="14.3" text-anchor="middle" fill="#111">0</text>
<text transform="translate(634.22,425.80) scale(1.0,1.05)" font-size="14.3" text-anchor="middle" fill="#111">1</text>
<text transform="translate(715.14,425.80) scale(1.0,1.05)" font-size="14.3" text-anchor="middle" fill="#111">2</text>
<defs><clipPath id="cpC1"><rect x="50.00" y="433.00" width="189.00" height="182.80"/></clipPath></defs>
<g clip-path="url(#cpC1)"><rect x="96.00" y="613.60" width="8.37" height="2.20" fill="#96c4f6" stroke="#2236d8" stroke-width="1.2"/><rect x="104.37" y="607.30" width="8.37" height="8.50" fill="#96c4f6" stroke="#2236d8" stroke-width="1.2"/><rect x="112.74" y="577.40" width="8.37" height="38.40" fill="#96c4f6" stroke="#2236d8" stroke-width="1.2"/><rect x="121.11" y="566.40" width="8.37" height="49.40" fill="#96c4f6" stroke="#2236d8" stroke-width="1.2"/><rect x="129.48" y="530.80" width="8.37" height="85.00" fill="#96c4f6" stroke="#2236d8" stroke-width="1.2"/><rect x="137.85" y="501.30" width="8.37" height="114.50" fill="#96c4f6" stroke="#2236d8" stroke-width="1.2"/><rect x="146.22" y="483.20" width="8.37" height="132.60" fill="#96c4f6" stroke="#2236d8" stroke-width="1.2"/><rect x="154.59" y="496.60" width="8.37" height="119.20" fill="#96c4f6" stroke="#2236d8" stroke-width="1.2"/><rect x="162.96" y="511.20" width="8.37" height="104.60" fill="#96c4f6" stroke="#2236d8" stroke-width="1.2"/><rect x="171.33" y="527.20" width="8.37" height="88.60" fill="#96c4f6" stroke="#2236d8" stroke-width="1.2"/><rect x="179.70" y="566.40" width="8.37" height="49.40" fill="#96c4f6" stroke="#2236d8" stroke-width="1.2"/><rect x="188.07" y="575.00" width="8.37" height="40.80" fill="#96c4f6" stroke="#2236d8" stroke-width="1.2"/><rect x="196.44" y="605.40" width="8.37" height="10.40" fill="#96c4f6" stroke="#2236d8" stroke-width="1.2"/><rect x="204.81" y="611.40" width="8.37" height="4.40" fill="#96c4f6" stroke="#2236d8" stroke-width="1.2"/><rect x="213.18" y="614.30" width="8.37" height="1.50" fill="#96c4f6" stroke="#2236d8" stroke-width="1.2"/></g>
<path d="M50.00,463.00 V615.80 H239.00" fill="none" stroke="#3a3a3a" stroke-width="1.4"/>
<path d="M50.00,615.80 h2.5" stroke="#3a3a3a" stroke-width="1.2"/>
<path d="M50.00,577.60 h2.5" stroke="#3a3a3a" stroke-width="1.2"/>
<path d="M50.00,539.40 h2.5" stroke="#3a3a3a" stroke-width="1.2"/>
<path d="M50.00,501.20 h2.5" stroke="#3a3a3a" stroke-width="1.2"/>
<path d="M50.00,463.00 h2.5" stroke="#3a3a3a" stroke-width="1.2"/>
<path d="M71.00,615.80 v-2.5" stroke="#3a3a3a" stroke-width="1.2"/>
<path d="M113.00,615.80 v-2.5" stroke="#3a3a3a" stroke-width="1.2"/>
<path d="M155.00,615.80 v-2.5" stroke="#3a3a3a" stroke-width="1.2"/>
<path d="M197.00,615.80 v-2.5" stroke="#3a3a3a" stroke-width="1.2"/>
<path d="M239.00,615.80 v-2.5" stroke="#3a3a3a" stroke-width="1.2"/>
<path d="M70.90,615.60 H96.00" stroke="#1c2a8a" stroke-width="1.1" opacity="0.8"/>
<g clip-path="url(#cpC1)"><polyline points="67.3,615.78 67.9,615.78 68.5,615.77 69.1,615.77 69.7,615.77 70.3,615.76 70.9,615.76 71.5,615.75 72.1,615.75 72.7,615.74 73.3,615.74 73.9,615.73 74.5,615.72 75.1,615.71 75.7,615.70 76.3,615.69 76.9,615.68 77.5,615.66 78.1,615.65 78.7,615.63 79.3,615.61 79.9,615.59 80.5,615.57 81.1,615.55 81.7,615.52 82.3,615.49 82.9,615.46 83.5,615.42 84.1,615.38 84.7,615.34 85.3,615.30 85.9,615.25 86.5,615.19 87.1,615.13 87.7,615.07 88.3,614.99 88.9,614.92 89.5,614.83 90.1,614.74 90.7,614.65 91.3,614.54 91.9,614.43 92.5,614.30 93.1,614.17 93.7,614.03 94.3,613.87 94.9,613.70 95.5,613.52 96.1,613.33 96.7,613.13 97.3,612.90 97.9,612.67 98.5,612.41 99.1,612.14 99.7,611.85 100.3,611.54 100.9,611.21 101.5,610.86 102.1,610.48 102.7,610.08 103.3,609.66 103.9,609.21 104.5,608.74 105.1,608.23 105.7,607.70 106.3,607.13 106.9,606.54 107.5,605.91 108.1,605.24 108.7,604.54 109.3,603.81 109.9,603.04 110.5,602.23 111.1,601.37 111.7,600.48 112.3,599.55 112.9,598.57 113.5,597.55 114.1,596.49 114.7,595.37 115.3,594.22 115.9,593.01 116.5,591.76 117.1,590.46 117.7,589.12 118.3,587.72 118.9,586.27 119.5,584.78 120.1,583.24 120.7,581.64 121.3,580.00 121.9,578.31 122.5,576.58 123.1,574.79 123.7,572.96 124.3,571.09 124.9,569.17 125.5,567.21 126.1,565.21 126.7,563.16 127.3,561.08 127.9,558.97 128.5,556.82 129.1,554.64 129.7,552.43 130.3,550.19 130.9,547.94 131.5,545.66 132.1,543.36 132.7,541.05 133.3,538.73 133.9,536.40 134.5,534.07 135.1,531.74 135.7,529.41 136.3,527.09 136.9,524.78 137.5,522.49 138.1,520.22 138.7,517.98 139.3,515.76 139.9,513.58 140.5,511.43 141.1,509.33 141.7,507.27 142.3,505.27 142.9,503.31 143.5,501.42 144.1,499.59 144.7,497.83 145.3,496.14 145.9,494.52 146.5,492.99 147.1,491.53 147.7,490.16 148.3,488.88 148.9,487.69 149.5,486.60 150.1,485.60 150.7,484.70 151.3,483.90 151.9,483.21 152.5,482.62 153.1,482.14 153.8,481.77 154.4,481.50 155.0,481.35 155.6,481.30 156.2,481.36 156.8,481.54 157.4,481.82 158.0,482.21 158.6,482.71 159.2,483.32 159.8,484.03 160.4,484.85 161.0,485.76 161.6,486.78 162.2,487.89 162.8,489.09 163.4,490.39 164.0,491.77 164.6,493.24 165.2,494.80 165.8,496.42 166.4,498.13 167.0,499.90 167.6,501.74 168.2,503.64 168.8,505.61 169.4,507.62 170.0,509.69 170.6,511.80 171.2,513.95 171.8,516.14 172.4,518.36 173.0,520.61 173.6,522.88 174.2,525.18 174.8,527.49 175.4,529.81 176.0,532.14 176.6,534.47 177.2,536.80 177.8,539.13 178.4,541.45 179.0,543.75 179.6,546.05 180.2,548.32 180.8,550.58 181.4,552.81 182.0,555.01 182.6,557.19 183.2,559.33 183.8,561.44 184.4,563.52 185.0,565.55 185.6,567.55 186.2,569.50 186.8,571.41 187.4,573.28 188.0,575.10 188.6,576.88 189.2,578.61 189.8,580.29 190.4,581.92 191.0,583.50 191.6,585.04 192.2,586.52 192.8,587.96 193.4,589.35 194.0,590.69 194.6,591.98 195.2,593.22 195.8,594.42 196.4,595.57 197.0,596.67 197.6,597.73 198.2,598.74 198.8,599.71 199.4,600.64 200.0,601.52 200.6,602.37 201.2,603.17 201.8,603.94 202.4,604.67 203.0,605.36 203.6,606.02 204.2,606.64 204.8,607.23 205.4,607.79 206.0,608.32 206.6,608.82 207.2,609.29 207.8,609.74 208.4,610.15 209.0,610.55 209.6,610.92 210.2,611.27 210.8,611.59 211.4,611.90 212.0,612.19 212.6,612.46 213.2,612.71 213.8,612.94 214.4,613.16 215.0,613.37 215.6,613.56 216.2,613.73 216.8,613.90 217.4,614.05 218.0,614.19 218.6,614.32 219.2,614.45 219.8,614.56 220.4,614.66 221.0,614.76 221.6,614.85 222.2,614.93 222.8,615.01 223.4,615.08 224.0,615.14 224.6,615.20 225.2,615.25 225.8,615.30 226.4,615.35 227.0,615.39 227.6,615.43 228.2,615.46 228.8,615.50 229.4,615.52 230.0,615.55 230.6,615.58 231.2,615.60 231.8,615.62 232.4,615.64 233.0,615.65 233.6,615.67 234.2,615.68 234.8,615.69 235.4,615.70 236.0,615.71 236.6,615.72 237.2,615.73 237.8,615.74 238.4,615.74 239.0,615.75" fill="none" stroke="#cf2f3c" stroke-width="1.3" stroke-linejoin="round"/></g>
<text transform="translate(45.80,621.40) scale(1.0,1.05)" font-size="14.3" text-anchor="end" fill="#111">0</text>
<text transform="translate(45.80,545.00) scale(1.0,1.05)" font-size="14.3" text-anchor="end" fill="#111">9</text>
<text transform="translate(45.80,468.60) scale(1.0,1.05)" font-size="14.3" text-anchor="end" fill="#111">18</text>
<text transform="translate(71.00,633.70) scale(1.0,1.05)" font-size="14.3" text-anchor="middle" fill="#111">18.4</text>
<text transform="translate(155.00,633.70) scale(1.0,1.05)" font-size="14.3" text-anchor="middle" fill="#111">20.0</text>
<text transform="translate(239.00,633.70) scale(1.0,1.05)" font-size="14.3" text-anchor="middle" fill="#111">21.6</text>
<defs><clipPath id="cpC2"><rect x="310.00" y="433.40" width="180.00" height="181.10"/></clipPath></defs>
<g clip-path="url(#cpC2)"><rect x="345.60" y="608.20" width="10.83" height="6.30" fill="#96c4f6" stroke="#2236d8" stroke-width="1.2"/><rect x="356.43" y="567.50" width="10.83" height="47.00" fill="#96c4f6" stroke="#2236d8" stroke-width="1.2"/><rect x="367.26" y="529.20" width="10.83" height="85.30" fill="#96c4f6" stroke="#2236d8" stroke-width="1.2"/><rect x="378.09" y="477.80" width="10.83" height="136.70" fill="#96c4f6" stroke="#2236d8" stroke-width="1.2"/><rect x="388.92" y="477.80" width="10.83" height="136.70" fill="#96c4f6" stroke="#2236d8" stroke-width="1.2"/><rect x="399.75" y="480.00" width="10.83" height="134.50" fill="#96c4f6" stroke="#2236d8" stroke-width="1.2"/><rect x="410.58" y="514.70" width="10.83" height="99.80" fill="#96c4f6" stroke="#2236d8" stroke-width="1.2"/><rect x="421.41" y="535.90" width="10.83" height="78.60" fill="#96c4f6" stroke="#2236d8" stroke-width="1.2"/><rect x="432.24" y="571.20" width="10.83" height="43.30" fill="#96c4f6" stroke="#2236d8" stroke-width="1.2"/><rect x="443.07" y="586.10" width="10.83" height="28.40" fill="#96c4f6" stroke="#2236d8" stroke-width="1.2"/><rect x="453.90" y="585.50" width="10.83" height="29.00" fill="#96c4f6" stroke="#2236d8" stroke-width="1.2"/><rect x="464.73" y="608.00" width="10.83" height="6.50" fill="#96c4f6" stroke="#2236d8" stroke-width="1.2"/><rect x="475.56" y="613.40" width="10.83" height="1.10" fill="#96c4f6" stroke="#2236d8" stroke-width="1.2"/></g>
<path d="M310.00,463.40 V614.50 H490.00" fill="none" stroke="#3a3a3a" stroke-width="1.4"/>
<path d="M310.00,614.50 h2.5" stroke="#3a3a3a" stroke-width="1.2"/>
<path d="M310.00,580.95 h2.5" stroke="#3a3a3a" stroke-width="1.2"/>
<path d="M310.00,547.40 h2.5" stroke="#3a3a3a" stroke-width="1.2"/>
<path d="M310.00,513.85 h2.5" stroke="#3a3a3a" stroke-width="1.2"/>
<path d="M310.00,480.30 h2.5" stroke="#3a3a3a" stroke-width="1.2"/>
<g clip-path="url(#cpC2)"><polyline points="310.0,614.24 310.6,614.22 311.2,614.20 311.8,614.17 312.4,614.14 313.0,614.11 313.6,614.08 314.2,614.05 314.8,614.01 315.4,613.97 316.0,613.93 316.6,613.89 317.2,613.84 317.8,613.79 318.4,613.74 319.0,613.68 319.6,613.62 320.2,613.55 320.8,613.48 321.4,613.40 322.0,613.32 322.6,613.24 323.2,613.15 323.8,613.05 324.4,612.95 325.0,612.84 325.6,612.72 326.2,612.60 326.8,612.47 327.4,612.33 328.0,612.18 328.6,612.03 329.2,611.86 329.8,611.69 330.4,611.50 331.0,611.31 331.6,611.10 332.2,610.89 332.8,610.66 333.4,610.42 334.0,610.16 334.6,609.90 335.2,609.62 335.8,609.32 336.4,609.01 337.0,608.68 337.6,608.34 338.2,607.98 338.8,607.61 339.4,607.21 340.0,606.80 340.6,606.37 341.2,605.92 341.8,605.44 342.4,604.95 343.0,604.44 343.6,603.90 344.2,603.34 344.8,602.76 345.4,602.15 346.0,601.52 346.6,600.86 347.2,600.18 347.8,599.47 348.4,598.73 349.0,597.97 349.6,597.18 350.2,596.36 350.8,595.51 351.4,594.63 352.0,593.73 352.6,592.79 353.2,591.82 353.8,590.82 354.4,589.79 355.0,588.73 355.6,587.63 356.2,586.51 356.8,585.35 357.4,584.16 358.0,582.94 358.6,581.69 359.2,580.40 359.8,579.08 360.4,577.74 361.0,576.36 361.6,574.94 362.2,573.50 362.8,572.03 363.4,570.52 364.0,568.99 364.6,567.43 365.2,565.84 365.8,564.22 366.4,562.58 367.0,560.91 367.6,559.21 368.2,557.49 368.8,555.75 369.4,553.99 370.0,552.20 370.6,550.40 371.2,548.58 371.8,546.74 372.4,544.89 373.0,543.02 373.6,541.14 374.2,539.25 374.8,537.36 375.4,535.45 376.0,533.54 376.6,531.63 377.2,529.72 377.8,527.81 378.4,525.90 379.0,524.00 379.6,522.10 380.2,520.22 380.8,518.34 381.4,516.48 382.0,514.64 382.6,512.81 383.2,511.00 383.8,509.22 384.4,507.46 385.0,505.73 385.6,504.03 386.2,502.35 386.8,500.72 387.4,499.12 388.0,497.56 388.6,496.04 389.2,494.56 389.8,493.12 390.4,491.74 391.0,490.40 391.6,489.11 392.2,487.87 392.8,486.69 393.4,485.57 394.0,484.50 394.6,483.49 395.2,482.55 395.8,481.66 396.4,480.84 397.0,480.09 397.6,479.40 398.2,478.78 398.8,478.22 399.4,477.74 400.0,477.32 400.6,476.97 401.2,476.70 401.8,476.50 402.4,476.36 403.0,476.30 403.6,476.32 404.2,476.40 404.8,476.56 405.4,476.78 406.0,477.08 406.6,477.45 407.2,477.89 407.8,478.40 408.4,478.98 409.0,479.62 409.6,480.33 410.2,481.11 410.8,481.95 411.4,482.86 412.0,483.82 412.6,484.85 413.2,485.94 413.8,487.08 414.4,488.28 415.0,489.53 415.6,490.84 416.2,492.19 416.8,493.60 417.4,495.04 418.0,496.54 418.6,498.07 419.2,499.65 419.8,501.26 420.4,502.91 421.0,504.59 421.6,506.30 422.2,508.04 422.8,509.81 423.4,511.60 424.0,513.42 424.6,515.25 425.2,517.10 425.8,518.97 426.4,520.84 427.0,522.73 427.6,524.63 428.2,526.54 428.8,528.45 429.4,530.36 430.0,532.27 430.6,534.18 431.2,536.09 431.8,537.99 432.4,539.88 433.0,541.77 433.6,543.64 434.2,545.51 434.8,547.35 435.4,549.19 436.0,551.00 436.6,552.80 437.2,554.58 437.8,556.33 438.4,558.07 439.0,559.78 439.6,561.47 440.2,563.13 440.8,564.76 441.4,566.37 442.0,567.95 442.6,569.50 443.2,571.03 443.8,572.52 444.4,573.98 445.0,575.42 445.6,576.82 446.2,578.19 446.8,579.53 447.4,580.83 448.0,582.11 448.6,583.35 449.2,584.56 449.8,585.74 450.4,586.89 451.0,588.00 451.6,589.08 452.2,590.14 452.8,591.16 453.4,592.15 454.0,593.10 454.6,594.03 455.2,594.93 455.8,595.80 456.4,596.64 457.0,597.45 457.6,598.23 458.2,598.98 458.8,599.71 459.4,600.41 460.0,601.08 460.6,601.73 461.2,602.35 461.8,602.95 462.4,603.53 463.0,604.08 463.6,604.61 464.2,605.12 464.8,605.60 465.4,606.07 466.0,606.51 466.6,606.94 467.2,607.34 467.8,607.73 468.4,608.10 469.0,608.46 469.6,608.79 470.2,609.11 470.8,609.42 471.4,609.71 472.0,609.99 472.6,610.25 473.2,610.50 473.8,610.74 474.4,610.96 475.0,611.17 475.6,611.37 476.2,611.57 476.8,611.75 477.4,611.92 478.0,612.08 478.6,612.23 479.2,612.38 479.8,612.51 480.4,612.64 481.0,612.76 481.6,612.87 482.2,612.98 482.8,613.08 483.4,613.18 484.0,613.27 484.6,613.35 485.2,613.43 485.8,613.50 486.4,613.57 487.0,613.64 487.6,613.70 488.2,613.75 488.8,613.81 489.4,613.86 490.0,613.90" fill="none" stroke="#cf2f3c" stroke-width="1.3" stroke-linejoin="round"/></g>
<text transform="translate(305.80,620.10) scale(1.0,1.05)" font-size="14.3" text-anchor="end" fill="#111">0</text>
<text transform="translate(305.80,553.00) scale(1.0,1.05)" font-size="14.3" text-anchor="end" fill="#111">8</text>
<text transform="translate(305.80,485.90) scale(1.0,1.05)" font-size="14.3" text-anchor="end" fill="#111">16</text>
<text transform="translate(310.00,632.40) scale(1.0,1.05)" font-size="14.3" text-anchor="middle" fill="#111">0</text>
<text transform="translate(400.00,632.40) scale(1.0,1.05)" font-size="14.3" text-anchor="middle" fill="#111">10</text>
<text transform="translate(490.00,632.40) scale(1.0,1.05)" font-size="14.3" text-anchor="middle" fill="#111">20</text>
<defs><clipPath id="cpC3"><rect x="553.30" y="432.50" width="202.30" height="183.10"/></clipPath></defs>
<g clip-path="url(#cpC3)"><rect x="556.80" y="614.00" width="15.48" height="1.60" fill="#96c4f6" stroke="#2236d8" stroke-width="1.2"/><rect x="572.28" y="602.40" width="15.48" height="13.20" fill="#96c4f6" stroke="#2236d8" stroke-width="1.2"/><rect x="587.76" y="546.60" width="15.48" height="69.00" fill="#96c4f6" stroke="#2236d8" stroke-width="1.2"/><rect x="603.24" y="478.00" width="15.48" height="137.60" fill="#96c4f6" stroke="#2236d8" stroke-width="1.2"/><rect x="618.72" y="486.30" width="15.48" height="129.30" fill="#96c4f6" stroke="#2236d8" stroke-width="1.2"/><rect x="634.20" y="497.50" width="15.48" height="118.10" fill="#96c4f6" stroke="#2236d8" stroke-width="1.2"/><rect x="649.68" y="532.00" width="15.48" height="83.60" fill="#96c4f6" stroke="#2236d8" stroke-width="1.2"/><rect x="665.16" y="563.70" width="15.48" height="51.90" fill="#96c4f6" stroke="#2236d8" stroke-width="1.2"/><rect x="680.64" y="571.50" width="15.48" height="44.10" fill="#96c4f6" stroke="#2236d8" stroke-width="1.2"/><rect x="696.12" y="597.60" width="15.48" height="18.00" fill="#96c4f6" stroke="#2236d8" stroke-width="1.2"/><rect x="711.60" y="602.00" width="15.48" height="13.60" fill="#96c4f6" stroke="#2236d8" stroke-width="1.2"/><rect x="727.08" y="609.40" width="15.48" height="6.20" fill="#96c4f6" stroke="#2236d8" stroke-width="1.2"/><rect x="742.56" y="612.80" width="15.48" height="2.80" fill="#96c4f6" stroke="#2236d8" stroke-width="1.2"/></g>
<path d="M553.30,462.50 V615.60 H755.60" fill="none" stroke="#3a3a3a" stroke-width="1.4"/>
<path d="M553.30,615.60 h2.5" stroke="#3a3a3a" stroke-width="1.2"/>
<path d="M553.30,584.38 h2.5" stroke="#3a3a3a" stroke-width="1.2"/>
<path d="M553.30,553.15 h2.5" stroke="#3a3a3a" stroke-width="1.2"/>
<path d="M553.30,521.92 h2.5" stroke="#3a3a3a" stroke-width="1.2"/>
<path d="M553.30,490.70 h2.5" stroke="#3a3a3a" stroke-width="1.2"/>
<path d="M553.30,615.60 v-2.5" stroke="#3a3a3a" stroke-width="1.2"/>
<path d="M593.76,615.60 v-2.5" stroke="#3a3a3a" stroke-width="1.2"/>
<path d="M634.22,615.60 v-2.5" stroke="#3a3a3a" stroke-width="1.2"/>
<path d="M674.68,615.60 v-2.5" stroke="#3a3a3a" stroke-width="1.2"/>
<path d="M715.14,615.60 v-2.5" stroke="#3a3a3a" stroke-width="1.2"/>
<path d="M755.60,615.60 v-2.5" stroke="#3a3a3a" stroke-width="1.2"/>
<g clip-path="url(#cpC3)"><polyline points="553.3,609.88 553.9,609.63 554.5,609.38 555.1,609.11 555.7,608.84 556.3,608.56 556.9,608.27 557.5,607.97 558.1,607.66 558.7,607.33 559.3,607.00 559.9,606.66 560.5,606.30 561.1,605.94 561.7,605.56 562.3,605.17 562.9,604.77 563.5,604.36 564.1,603.93 564.7,603.50 565.3,603.05 565.9,602.58 566.5,602.11 567.1,601.62 567.7,601.11 568.3,600.60 568.9,600.06 569.5,599.52 570.1,598.96 570.7,598.39 571.3,597.80 571.9,597.19 572.5,596.58 573.1,595.94 573.7,595.29 574.3,594.63 574.9,593.95 575.5,593.26 576.1,592.55 576.7,591.82 577.3,591.08 577.9,590.32 578.5,589.55 579.1,588.76 579.7,587.95 580.3,587.13 580.9,586.30 581.5,585.44 582.1,584.58 582.7,583.69 583.3,582.79 583.9,581.88 584.5,580.95 585.1,580.00 585.7,579.04 586.3,578.06 586.9,577.07 587.5,576.07 588.1,575.05 588.7,574.01 589.3,572.97 589.9,571.90 590.5,570.83 591.1,569.74 591.7,568.64 592.3,567.52 592.9,566.40 593.5,565.26 594.1,564.11 594.7,562.95 595.3,561.78 595.9,560.60 596.5,559.41 597.1,558.21 597.7,557.01 598.3,555.79 598.9,554.57 599.5,553.34 600.1,552.10 600.7,550.86 601.3,549.61 601.9,548.36 602.5,547.11 603.1,545.85 603.7,544.59 604.3,543.32 604.9,542.06 605.5,540.80 606.1,539.53 606.7,538.27 607.3,537.01 607.9,535.75 608.5,534.50 609.1,533.25 609.7,532.00 610.3,530.76 610.9,529.53 611.5,528.31 612.1,527.09 612.7,525.88 613.3,524.68 613.9,523.50 614.5,522.32 615.1,521.16 615.7,520.01 616.3,518.87 616.9,517.75 617.5,516.65 618.1,515.56 618.7,514.49 619.3,513.44 619.9,512.41 620.5,511.39 621.1,510.40 621.7,509.43 622.3,508.48 622.9,507.55 623.5,506.65 624.1,505.77 624.7,504.92 625.3,504.09 625.9,503.29 626.5,502.52 627.1,501.77 627.7,501.06 628.3,500.37 628.9,499.71 629.5,499.08 630.1,498.48 630.7,497.92 631.3,497.38 631.9,496.88 632.5,496.41 633.1,495.97 633.7,495.57 634.3,495.20 634.9,494.86 635.5,494.56 636.1,494.29 636.7,494.06 637.3,493.86 637.9,493.70 638.5,493.57 639.1,493.48 639.7,493.42 640.3,493.40 640.9,493.41 641.5,493.46 642.1,493.55 642.7,493.67 643.3,493.83 643.9,494.02 644.5,494.24 645.1,494.51 645.7,494.80 646.3,495.13 646.9,495.50 647.5,495.89 648.1,496.32 648.7,496.79 649.3,497.28 649.9,497.81 650.5,498.37 651.1,498.97 651.7,499.59 652.3,500.24 652.9,500.92 653.5,501.64 654.1,502.38 654.8,503.14 655.4,503.94 656.0,504.76 656.6,505.61 657.2,506.48 657.8,507.38 658.4,508.30 659.0,509.25 659.6,510.21 660.2,511.20 660.8,512.21 661.4,513.24 662.0,514.29 662.6,515.36 663.2,516.44 663.8,517.54 664.4,518.66 665.0,519.79 665.6,520.94 666.2,522.10 666.8,523.27 667.4,524.46 668.0,525.65 668.6,526.86 669.2,528.07 669.8,529.30 670.4,530.53 671.0,531.77 671.6,533.01 672.2,534.26 672.8,535.51 673.4,536.77 674.0,538.03 674.6,539.29 675.2,540.56 675.8,541.82 676.4,543.08 677.0,544.35 677.6,545.61 678.2,546.87 678.8,548.12 679.4,549.37 680.0,550.62 680.6,551.87 681.2,553.10 681.8,554.33 682.4,555.56 683.0,556.77 683.6,557.98 684.2,559.18 684.8,560.38 685.4,561.56 686.0,562.73 686.6,563.89 687.2,565.04 687.8,566.18 688.4,567.31 689.0,568.43 689.6,569.53 690.2,570.62 690.8,571.70 691.4,572.76 692.0,573.82 692.6,574.85 693.2,575.88 693.8,576.88 694.4,577.88 695.0,578.86 695.6,579.82 696.2,580.77 696.8,581.70 697.4,582.62 698.0,583.52 698.6,584.41 699.2,585.28 699.8,586.14 700.4,586.98 701.0,587.80 701.6,588.61 702.2,589.40 702.8,590.18 703.4,590.94 704.0,591.68 704.6,592.41 705.2,593.12 705.8,593.82 706.4,594.50 707.0,595.17 707.6,595.82 708.2,596.46 708.8,597.08 709.4,597.68 710.0,598.28 710.6,598.85 711.2,599.41 711.8,599.96 712.4,600.50 713.0,601.02 713.6,601.52 714.2,602.01 714.8,602.49 715.4,602.96 716.0,603.41 716.6,603.85 717.2,604.28 717.8,604.69 718.4,605.10 719.0,605.49 719.6,605.87 720.2,606.23 720.8,606.59 721.4,606.94 722.0,607.27 722.6,607.59 723.2,607.91 723.8,608.21 724.4,608.51 725.0,608.79 725.6,609.06 726.2,609.33 726.8,609.59 727.4,609.83 728.0,610.07 728.6,610.30 729.2,610.52 729.8,610.74 730.4,610.95 731.0,611.14 731.6,611.34 732.2,611.52 732.8,611.70 733.4,611.87 734.0,612.04 734.6,612.19 735.2,612.35 735.8,612.49 736.4,612.63 737.0,612.77 737.6,612.90 738.2,613.02 738.8,613.14 739.4,613.26 740.0,613.37 740.6,613.47 741.2,613.57 741.8,613.67 742.4,613.76 743.0,613.85 743.6,613.94 744.2,614.02 744.8,614.10 745.4,614.17 746.0,614.24 746.6,614.31 747.2,614.37 747.8,614.44 748.4,614.50 749.0,614.55 749.6,614.61 750.2,614.66 750.8,614.71 751.4,614.75 752.0,614.80 752.6,614.84 753.2,614.88 753.8,614.92 754.4,614.96 755.0,614.99 755.6,615.02" fill="none" stroke="#cf2f3c" stroke-width="1.3" stroke-linejoin="round"/></g>
<text transform="translate(549.10,621.20) scale(1.0,1.05)" font-size="14.3" text-anchor="end" fill="#111">0</text>
<text transform="translate(549.10,558.75) scale(1.0,1.05)" font-size="14.3" text-anchor="end" fill="#111">9</text>
<text transform="translate(549.10,496.30) scale(1.0,1.05)" font-size="14.3" text-anchor="end" fill="#111">18</text>
<text transform="translate(553.30,633.50) scale(1.0,1.05)" font-size="14.3" text-anchor="middle" fill="#111">0</text>
<text transform="translate(634.22,633.50) scale(1.0,1.05)" font-size="14.3" text-anchor="middle" fill="#111">1</text>
<text transform="translate(715.14,633.50) scale(1.0,1.05)" font-size="14.3" text-anchor="middle" fill="#111">2</text>
<text transform="translate(86.10,32.20) scale(1.0,1.0)" font-size="15.8" text-anchor="start" fill="#111">Crossing points</text>
<text transform="translate(311.00,32.30) scale(1.0,1.0)" font-size="15.8" text-anchor="start" fill="#111">Non-normalized values</text>
<text transform="translate(577.80,32.30) scale(1.0,1.0)" font-size="15.8" text-anchor="start" fill="#111">Normalized results</text>
<text transform="translate(56.50,63.80) scale(1.0,1.0)" font-size="13.3" text-anchor="start" fill="#111">Mean CP = 20</text>
<text transform="translate(56.80,79.10) scale(1.0,1.0)" font-size="13.3" text-anchor="start" fill="#111">CV = 0.5%</text>
<text transform="translate(57.00,94.40) scale(1.0,1.0)" font-size="13.3" text-anchor="start" fill="#111">s = 0.1</text>
<text transform="translate(56.50,272.30) scale(1.0,1.0)" font-size="13.3" text-anchor="start" fill="#111">Mean CP = 20</text>
<text transform="translate(56.80,287.60) scale(1.0,1.0)" font-size="13.3" text-anchor="start" fill="#111">CV = 1%</text>
<text transform="translate(57.00,302.90) scale(1.0,1.0)" font-size="13.3" text-anchor="start" fill="#111">s = 0.2</text>
<text transform="translate(56.50,471.60) scale(1.0,1.0)" font-size="13.3" text-anchor="start" fill="#111">Mean CP = 20</text>
<text transform="translate(56.80,486.90) scale(1.0,1.0)" font-size="13.3" text-anchor="start" fill="#111">CV = 2%</text>
<text transform="translate(57.00,502.20) scale(1.0,1.0)" font-size="13.3" text-anchor="start" fill="#111">s = 0.4</text>
<text transform="translate(427.20,64.10) scale(1.0,1.0)" font-size="13.3" text-anchor="start" fill="#111">CV = 7%</text>
<text transform="translate(664.20,63.90) scale(1.0,1.0)" font-size="13.3" text-anchor="start" fill="#111">CV = 10%</text>
<text transform="translate(436.70,273.00) scale(1.0,1.0)" font-size="13.3" text-anchor="start" fill="#111">CV = 20%</text>
<text transform="translate(664.20,273.00) scale(1.0,1.0)" font-size="13.3" text-anchor="start" fill="#111">CV = 14%</text>
<text transform="translate(427.40,482.30) scale(1.0,1.0)" font-size="13.3" text-anchor="start" fill="#111">CV = 40%</text>
<text transform="translate(664.30,482.30) scale(1.0,1.0)" font-size="13.3" text-anchor="start" fill="#111">CV = 28%</text>
<text transform="translate(224.95,77.60) scale(0.9,1.03)" font-size="30" text-anchor="start" fill="#111">A</text>
<text transform="translate(225.10,283.70) scale(1.0,1.01)" font-size="30" text-anchor="start" fill="#111">B</text>
<text transform="translate(224.50,491.90) scale(1.0,1.0)" font-size="30" text-anchor="start" fill="#111">C</text>
<path d="M218.20,132.40 H255.00" stroke="#000" stroke-width="3"/>
<path d="M254.00,127.90 L263.20,132.40 L254.00,136.90 Z" fill="#000"/>
<path d="M474.90,132.40 H511.40" stroke="#000" stroke-width="3"/>
<path d="M510.40,127.90 L519.60,132.40 L510.40,136.90 Z" fill="#000"/>
<path d="M218.20,341.00 H255.00" stroke="#000" stroke-width="3"/>
<path d="M254.00,336.50 L263.20,341.00 L254.00,345.50 Z" fill="#000"/>
<path d="M474.90,341.00 H511.40" stroke="#000" stroke-width="3"/>
<path d="M510.40,336.50 L519.60,341.00 L510.40,345.50 Z" fill="#000"/>
<path d="M218.20,540.30 H255.00" stroke="#000" stroke-width="3"/>
<path d="M254.00,535.80 L263.20,540.30 L254.00,544.80 Z" fill="#000"/>
<path d="M474.90,540.30 H511.40" stroke="#000" stroke-width="3"/>
<path d="M510.40,535.80 L519.60,540.30 L510.40,544.80 Z" fill="#000"/>
</svg>
</body></html>
